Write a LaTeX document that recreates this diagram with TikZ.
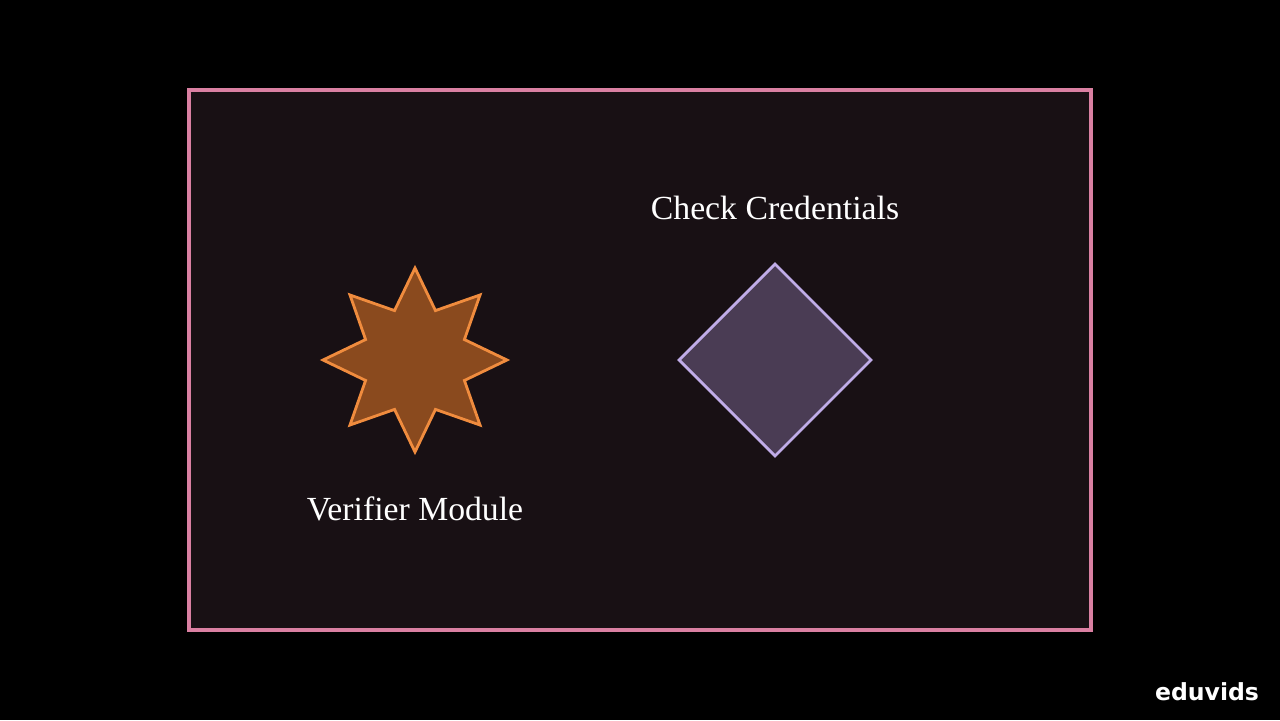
\documentclass[tikz,border=0pt]{standalone}
\usepackage{fontspec}
\setmainfont{Liberation Serif}
\newfontfamily\logofont{DejaVu Sans}
\usepackage{xcolor}
\definecolor{framepink}{RGB}{218,128,162}
\definecolor{panel}{RGB}{24,16,20}
\definecolor{starfill}{RGB}{138,74,30}
\definecolor{starline}{RGB}{240,140,62}
\definecolor{gemfill}{RGB}{74,60,84}
\definecolor{gemline}{RGB}{192,172,232}
\usepackage{tikz}
\usetikzlibrary{shapes.geometric}
\usetikzlibrary{positioning}

\begin{document}
\begin{tikzpicture}[x=0.02cm,y=-0.02cm,
  caption/.style={text=white,font=\fontsize{19.2}{21}\selectfont,inner sep=0pt},
  shapebox/.style={line width=1.6pt,inner sep=0pt,outer sep=0pt,line join=miter}]
\fill[black] (0,0) rectangle (1280,720);
\useasboundingbox (0,0) rectangle (1280,720);
\draw[framepink,fill=panel,line width=1.8pt] (189,90) rectangle (1091,630);
\node (verifier) [shapebox,star,star points=8,star point ratio=1.72,minimum size=3.68cm,draw=starline,fill=starfill] at (415,360) {};
\node (check) [shapebox,diamond,minimum size=3.84cm,draw=gemline,fill=gemfill] at (775,360) {};
\node (verifierlabel) [caption] at (415,509) {Verifier Module};
\node (checklabel) [caption] at (775,208) {Check Credentials};
\node (logo) [text=white,font=\logofont\bfseries\fontsize{13.4}{15}\selectfont,inner sep=0pt] at (1207,692) {eduvids};
\end{tikzpicture}
\end{document}
